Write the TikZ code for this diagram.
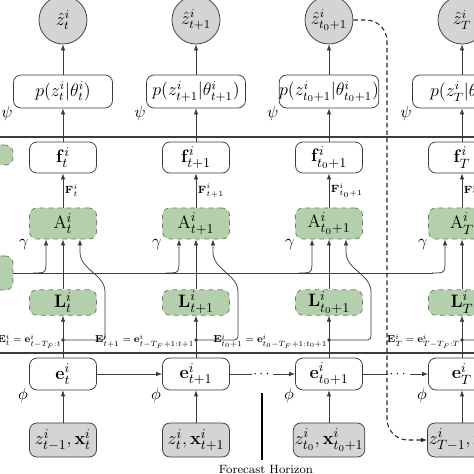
\documentclass[tikz,border=0pt]{standalone}
\usepackage{amsmath}
\usepackage{graphicx}
\usetikzlibrary{arrows.meta}
\definecolor{gfill}{RGB}{180,207,172}
\definecolor{gdraw}{RGB}{105,125,100}
\definecolor{zfill}{RGB}{212,212,212}
\definecolor{ln}{RGB}{60,60,60}
\begin{document}
\begin{tikzpicture}[x=0.6667pt,y=-0.6667pt,
  arr/.style={draw=ln,line width=0.5pt,-{Latex[length=4pt,width=3pt]}},
  conn/.style={draw=ln,line width=0.5pt},
  wbox/.style={draw=ln,rounded corners=5pt,fill=white,minimum width=44.7pt,minimum height=20.7pt,inner sep=1pt,font=\fontsize{12.5}{14}\selectfont,line width=0.5pt},
  pbox/.style={wbox,minimum width=66pt,minimum height=22pt,inner xsep=0pt,font=\fontsize{12}{14}\selectfont},
  gbox/.style={draw=gdraw,dashed,rounded corners=5pt,fill=gfill,minimum width=44.7pt,minimum height=20.7pt,inner sep=1pt,font=\fontsize{12.5}{14}\selectfont,line width=0.5pt},
  lbox/.style={gbox,minimum height=17pt},
  ebox/.style={wbox,minimum height=21.3pt},
  zbox/.style={draw=ln,rounded corners=5pt,fill=zfill,minimum width=44.7pt,minimum height=22.7pt,inner sep=1pt,font=\fontsize{12.5}{14}\selectfont,line width=0.5pt},
  cnode/.style={draw=ln,circle,fill=zfill,minimum size=32pt,inner sep=0pt,font=\fontsize{12}{14}\selectfont,line width=0.5pt},
  glab/.style={font=\fontsize{11}{13}\selectfont,inner sep=0pt},
  flab/.style={font=\fontsize{7}{8}\selectfont,inner sep=1pt,anchor=west},
  elab/.style={font=\fontsize{8}{9}\selectfont,inner sep=0.5pt,anchor=east},
  sep/.style={draw=ln,line width=1.2pt}
]
\useasboundingbox (0,0) rectangle (474,474);
\clip (0,0) rectangle (474,474);
\fill[white] (0,0) rectangle (474,474);

% separators
\draw[sep] (0,137) -- (474,137);
\draw[sep] (0,353) -- (474,353);

% left cut boxes
\node[gbox,minimum width=22pt,minimum height=13.3pt] (ub) at (-3.5,155) {};
\node[gbox,minimum width=22pt,minimum height=22.7pt] (lb) at (-3.5,273) {};

\foreach \n/\x/\s/\zl/\el in {
 1/63/t/{z^i_{t-1},\mathbf{x}^i_t}/{\mathbf{E}^i_t=\mathbf{e}^i_{t-T_F:t}},
 2/196/t+1/{z^i_{t},\mathbf{x}^i_{t+1}}/{\mathbf{E}^i_{t+1}=\mathbf{e}^i_{t-T_F+1:t+1}},
 3/329/t_0+1/{z^i_{t_0},\mathbf{x}^i_{t_0+1}}/{\mathbf{E}^i_{t_0+1}=\mathbf{e}^i_{t_0-T_F+1:t_0+1}},
 4/462/T/{z^i_{T-1},\mathbf{x}^i_T}/{\mathbf{E}^i_T=\mathbf{e}^i_{T-T_F:T}}}{
  \node[cnode] (c\n) at (\x,20) {$\hat{z}^i_{\s}$};
  \node[pbox] (p\n) at (\x,91.5) {$p(z^i_{\s}|\theta^i_{\s})$};
  \node[wbox] (f\n) at (\x,157.5) {$\mathbf{f}^i_{\s}$};
  \node[gbox] (A\n) at (\x,223.5) {$\mathrm{A}^i_{\s}$};
  \node[lbox] (L\n) at (\x,302.5) {$\mathbf{L}^i_{\s}$};
  \node[ebox] (e\n) at (\x,374) {$\mathbf{e}^i_{\s}$};
  \node[zbox] (z\n) at (\x,440) {$\zl$};
  \coordinate (d\n) at (\x,340);
  \draw[arr] (z\n) -- (e\n);
  \draw[arr] (e\n) -- (L\n);
  \draw[arr] (L\n) -- (A\n);
  \draw[arr] (A\n) -- node[flab]{$\mathbf{F}^i_{\s}$} (f\n);
  \draw[arr] (f\n) -- (p\n);
  \draw[arr] (p\n) -- (c\n);
  \fill[ln] (d\n) circle (1.3pt);
  \node[elab] at ([xshift=-0.5pt,yshift=-0.8pt]d\n) {\scalebox{0.85}{$\el$}};
  \draw[arr] (d\n) -- ({\x+34},340) .. controls ({\x+42},340) .. ({\x+42},332)
     -- ({\x+42},292) .. controls ({\x+42},274) and ({\x+17},270) .. ({\x+17},252)
     -- ([xshift=11.3pt]A\n.south);
  \draw[arr] ({\x-30},273) .. controls ({\x-17},273) .. ({\x-17},260) -- ([xshift=-11.3pt]A\n.south);
  \node[glab] at ([xshift=-4pt,yshift=-3.5pt]p\n.south west) {$\psi$};
  \node[glab] at ([xshift=-3.5pt,yshift=-3.5pt]A\n.south west) {$\gamma$};
  \node[glab] at ([xshift=-4pt,yshift=-3.5pt]e\n.south west) {$\phi$};
}
% main gamma line
\draw[conn] (lb.east) -- (433,273);

% e chain
\draw[arr] (e1) -- (e2);
\draw[arr] (e2) -- node[fill=white,inner sep=1pt,font=\small]{$\cdots$} (e3);
\draw[arr] (e3) -- node[fill=white,inner sep=1pt,font=\small,pos=0.55]{$\cdots$} (e4);

% dashed feedback
\draw[draw=black!85,line width=0.7pt,dash pattern=on 3pt off 2pt,-{Latex[length=4pt,width=3pt]},rounded corners=14pt] (c3.east) -- (387,20) -- (387,440) -- (z4.west);

% forecast horizon
\draw[draw=black,line width=1.6pt] (262,393) -- (262,460);
\node[font=\fontsize{8}{9}\selectfont,inner sep=0pt] (fh) at (266,469) {Forecast Horizon};
\end{tikzpicture}
\end{document}
